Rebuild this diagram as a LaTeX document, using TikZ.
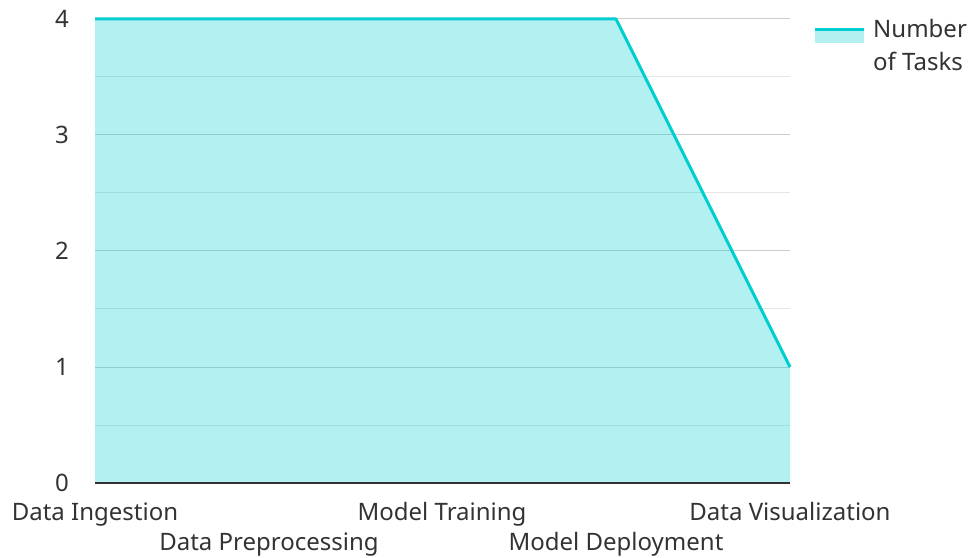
\documentclass[tikz,border=0pt]{standalone}
\usepackage{fontspec}
\setmainfont{Noto Sans}
\definecolor{taskline}{HTML}{00CED1}
\definecolor{labeltext}{HTML}{333333}
\begin{document}
\begin{tikzpicture}[x=1pt,y=1pt]
		\tikzset{gridmajor/.style = {draw=black!20, line width=1pt}}
		\tikzset{gridminor/.style = {draw=black!10, line width=1pt}}
		\tikzset{area/.style = {fill=taskline, fill opacity=0.3}}
		\tikzset{series/.style = {draw=taskline, line width=3pt, line join=round}}
		\tikzset{tick/.style = {text=labeltext, inner sep=0pt, font=\fontsize{24}{28}\selectfont}}
		
		\useasboundingbox (0,0) rectangle (973,557);
		
		\foreach \v in {0.5,1.5,2.5,3.5} \draw[gridminor] (95,74+116*\v) -- (790,74+116*\v);
		\foreach \v in {1,2,3,4} \draw[gridmajor] (95,74+116*\v) -- (790,74+116*\v);
		
		\coordinate (b1) at ( 95, 74);
		\coordinate (b5) at (790, 74);
		\coordinate (p1) at ( 95,538);
		\coordinate (p2) at (269,538);
		\coordinate (p3) at (442,538);
		\coordinate (p4) at (616,538);
		\coordinate (p5) at (790,190);
		
		\fill[area] (b1) -- (p1) -- (p2) -- (p3) -- (p4) -- (p5) -- (b5) -- cycle;
		\draw[series] (p1) -- (p2) -- (p3) -- (p4) -- (p5);
		\draw[draw=labeltext, line width=1.5pt] (b1) -- (b5);
		
		\foreach \v in {0,1,2,3,4} \node[tick, anchor=east] (y\v) at (69,74+116*\v) {\v};
		
		\node[tick, anchor=base] (x1) at ( 95,37) {Data Ingestion};
		\node[tick, anchor=base] (x2) at (269, 7) {Data Preprocessing};
		\node[tick, anchor=base] (x3) at (442,37) {Model Training};
		\node[tick, anchor=base] (x4) at (616, 7) {Model Deployment};
		\node[tick, anchor=base] (x5) at (790,37) {Data Visualization};
		
		\coordinate (k1) at (815,527);
		\coordinate (k2) at (864,527);
		\fill[area] (815,514) rectangle (864,527);
		\draw[series] (k1) -- (k2);
		\node[tick, anchor=base west] (key1) at (873,519) {Number};
		\node[tick, anchor=base west] (key2) at (873,486) {of Tasks};
\end{tikzpicture}
\end{document}
